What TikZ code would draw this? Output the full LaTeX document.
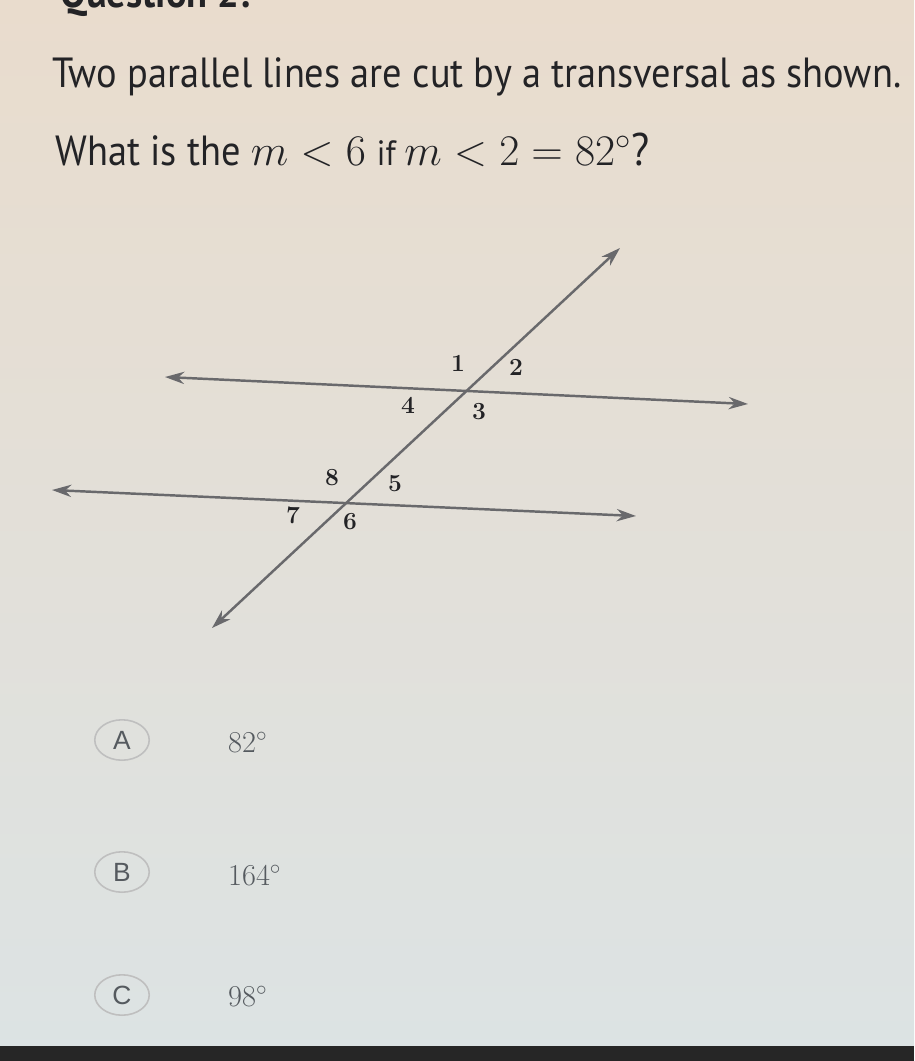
\documentclass[tikz,border=0pt]{standalone}
\usepackage{fontspec}
\newfontfamily\qfont[FakeStretch=0.91]{PT Sans}
\newfontfamily\optfont{Liberation Sans}
\usetikzlibrary{positioning, arrows.meta, shapes.geometric}

\definecolor{paperTop}{RGB}{233,220,205}
\definecolor{paperBot}{RGB}{220,227,228}
\definecolor{lineGray}{RGB}{105,105,108}
\definecolor{inkGray}{RGB}{35,35,38}
\definecolor{optGray}{RGB}{85,90,95}

\begin{document}
\begin{tikzpicture}[x=0.02cm,y=-0.02cm,
  parline/.style={draw=lineGray, line width=1.4pt,
    {Stealth[length=11pt,width=7pt]}-{Stealth[length=11pt,width=7pt]}},
  anglenum/.style={font=\bfseries\fontsize{14}{16}\selectfont, text=inkGray},
  optbox/.style={draw=gray!50, line width=0.9pt, ellipse, minimum width=31pt,
    minimum height=23pt, inner sep=0pt, font=\optfont\fontsize{15}{17}\selectfont, text=optGray},
  optval/.style={font=\fontsize{18}{20}\selectfont, text=optGray, anchor=west}]
\useasboundingbox (0,0) rectangle (914,1061);
\clip (0,0) rectangle (914,1061);
\shade[top color=paperTop, bottom color=paperBot] (0,0) rectangle (914,1061);
\fill[black!85] (0,1046) rectangle (914,1061);

% heading, only the lower edge shows
\node[anchor=base west, inner sep=0pt, font=\qfont\bfseries\fontsize{24}{28}\selectfont, text=inkGray] (head) at (60,8) {Question 2:};

% question text
\node[anchor=base west, inner sep=0pt, font=\qfont\fontsize{24}{28}\selectfont, text=inkGray] (line1) at (52,88)
  {Two parallel lines are cut by a transversal as shown.};
\node[anchor=base west, inner sep=0pt, font=\qfont\fontsize{24}{28}\selectfont, text=inkGray] (line2) at (55,165)
  {What is the \fontsize{26}{28}\selectfont$m<6$ \fontsize{20}{24}\selectfont if \fontsize{26}{28}\selectfont$m<2=82^\circ$?};

% the lines
\coordinate (topL) at (165,377);
\coordinate (topR) at (748,404);
\coordinate (botL) at (52,490);
\coordinate (botR) at (636,516);
\coordinate (trU) at (620,248);
\coordinate (trD) at (212,628);
\draw[parline] (topL) -- (topR);
\draw[parline] (botL) -- (botR);
\draw[parline] (trD) -- (trU);

% angle numbers
\node[anchor=mid, anglenum] (n1) at (458,368) {1};
\node[anchor=mid, anglenum] (n2) at (516,372) {2};
\node[anchor=mid, anglenum] (n3) at (479,416) {3};
\node[anchor=mid, anglenum] (n4) at (408,410) {4};
\node[anchor=mid, anglenum] (n5) at (395,488) {5};
\node[anchor=mid, anglenum] (n6) at (350,526) {6};
\node[anchor=mid, anglenum] (n7) at (293,520) {7};
\node[anchor=mid, anglenum] (n8) at (332,482) {8};

% answer choices
\node[optbox] (optA) at (122,740) {A};
\node[optbox] (optB) at (122,872) {B};
\node[optbox] (optC) at (122,995) {C};
\node[optval] (valA) at (222,742) {$82^\circ$};
\node[optval] (valB) at (222,875) {$164^\circ$};
\node[optval] (valC) at (222,996) {$98^\circ$};
\end{tikzpicture}
\end{document}
